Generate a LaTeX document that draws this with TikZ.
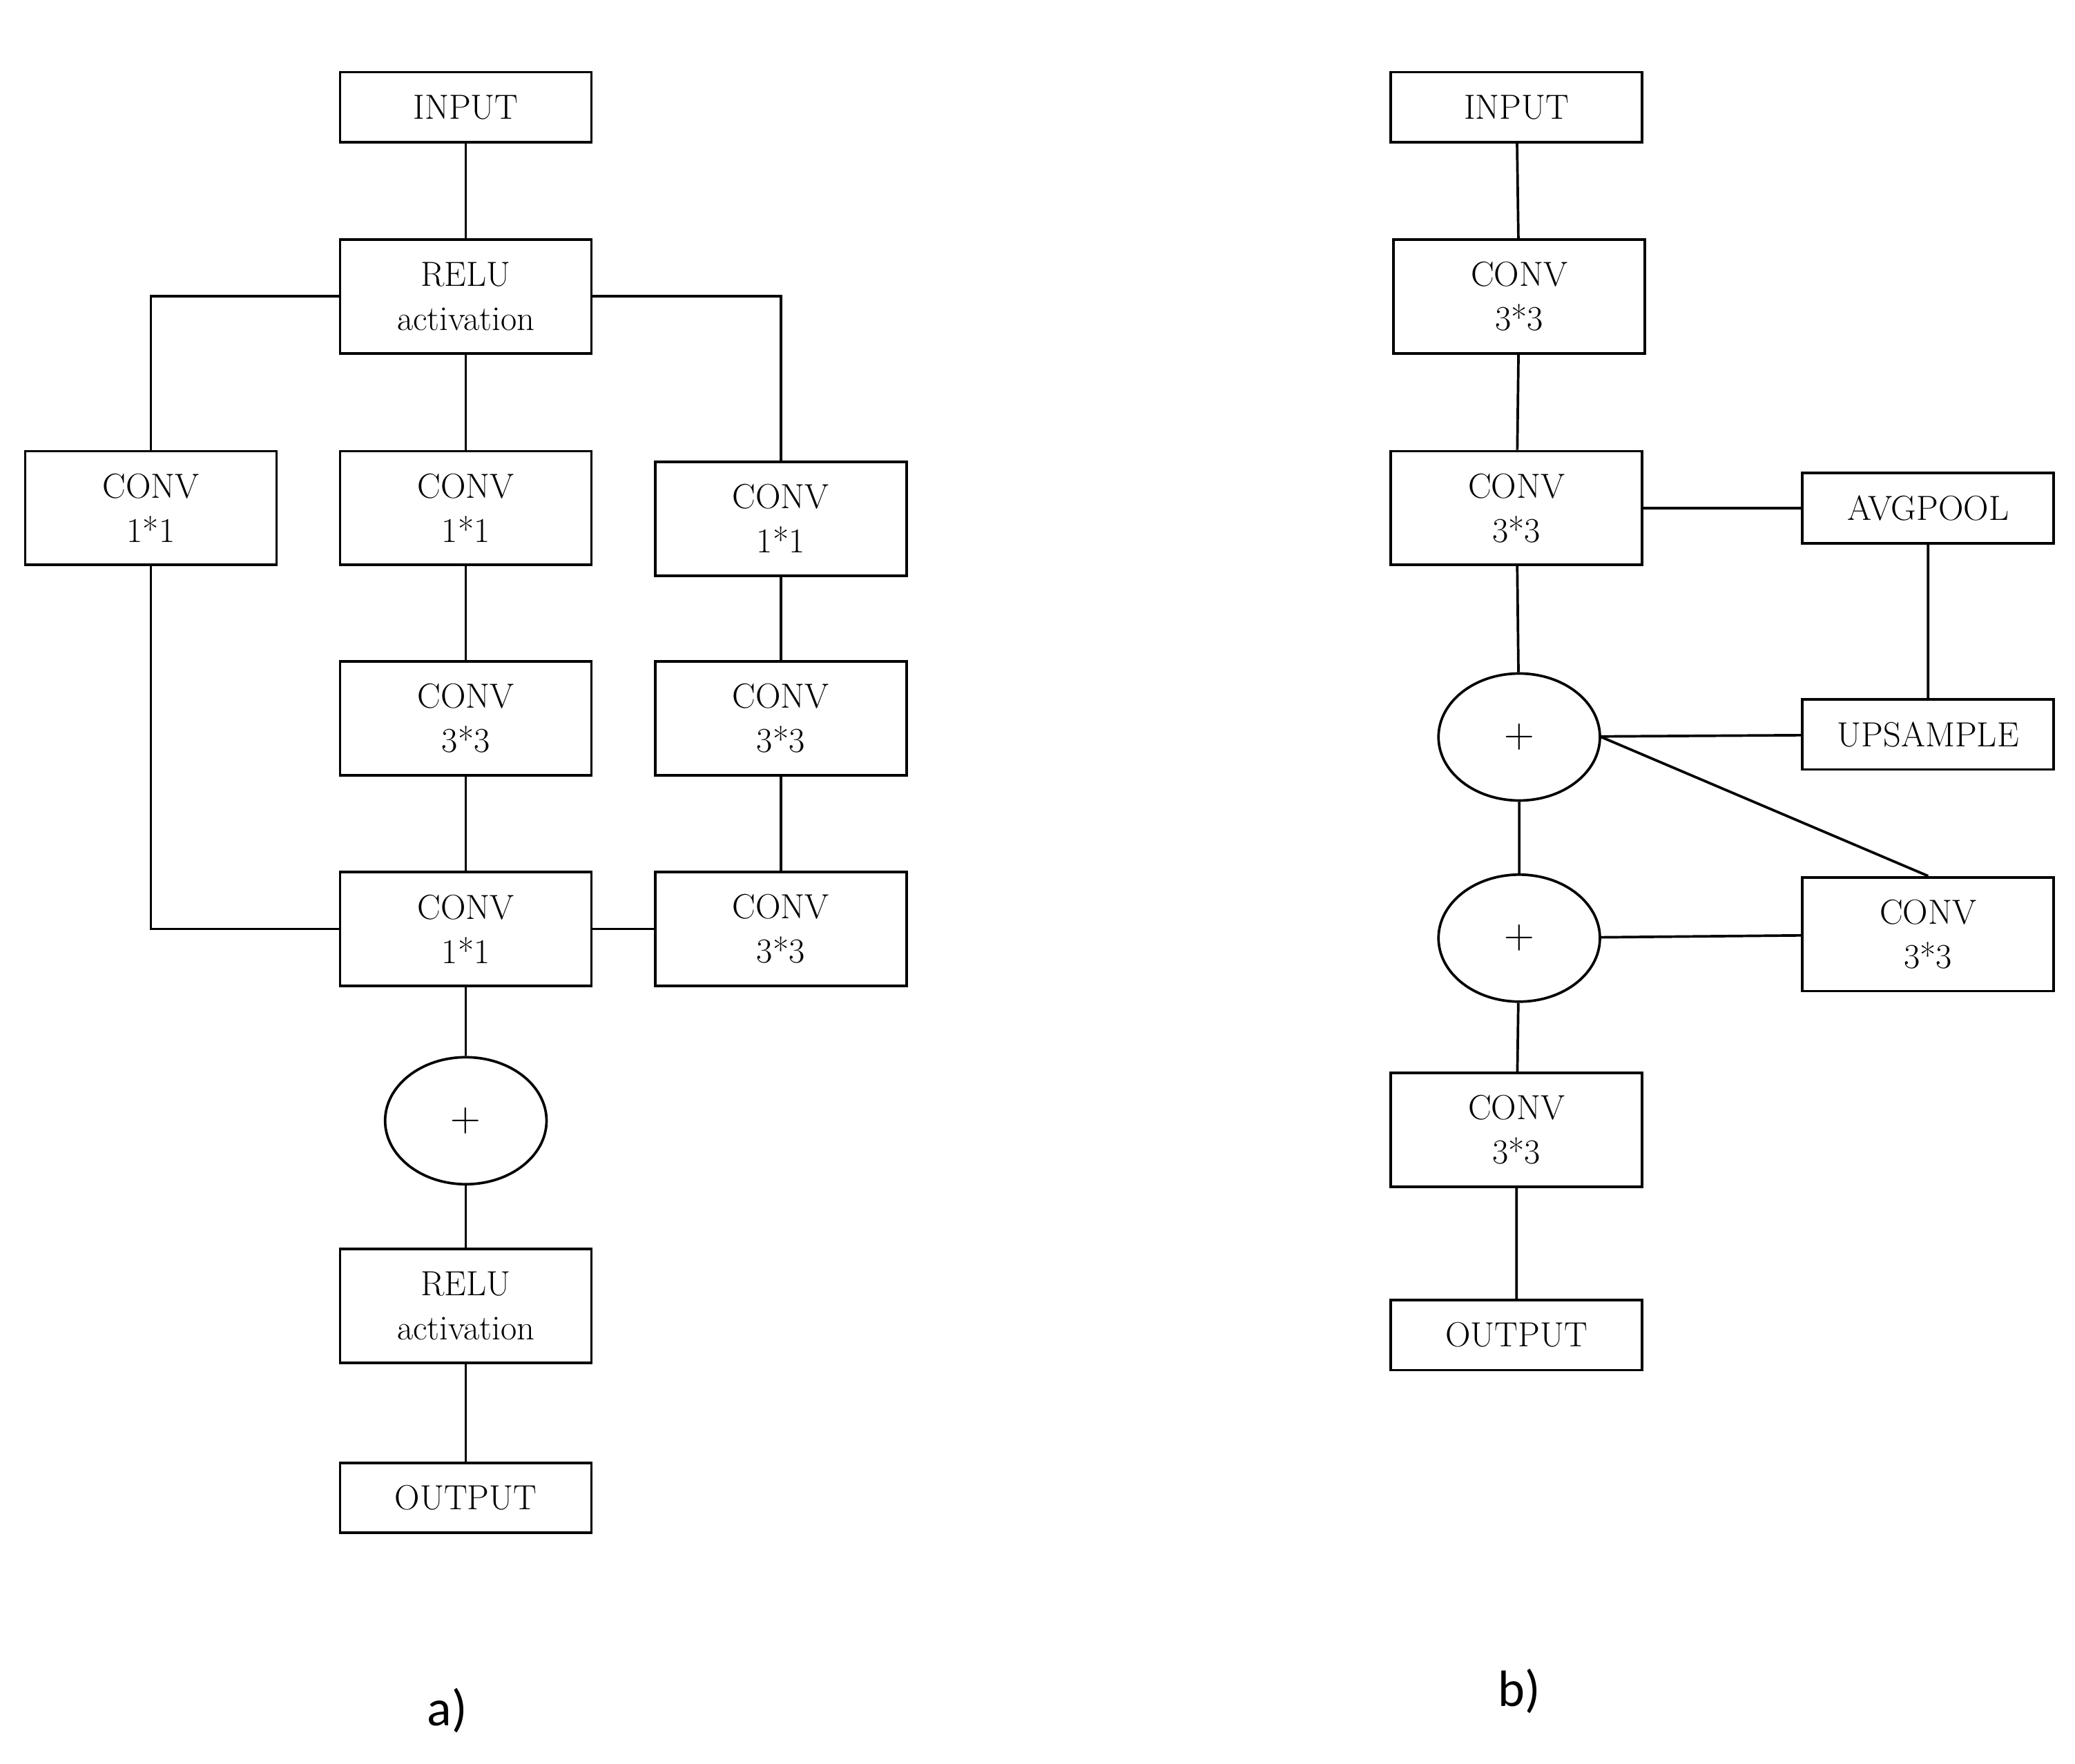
\documentclass[tikz,border=0pt]{standalone}
\usepackage{fontspec}
\usetikzlibrary{shapes.geometric}
\newfontfamily\lblfont{Carlito}
\begin{document}
\begin{tikzpicture}[x=0.02cm,y=-0.02cm,line width=1.1pt,
  blk/.style={draw,minimum width=3.8cm,minimum height=1.72cm,align=center,font=\fontsize{15}{19}\selectfont,inner sep=0pt},
  io/.style={blk,minimum height=1.06cm},
  sum/.style={draw,ellipse,minimum width=2.44cm,minimum height=1.92cm,font=\fontsize{18}{20}\selectfont,inner sep=0pt}]
\useasboundingbox (0,0) rectangle (1568,1333);
% a)
\node[io]  (ain)   at (352,81)   {INPUT};
\node[blk] (arelu) at (352,224)  {RELU\\activation};
\node[blk] (ac1)   at (114,384)  {CONV\\1*1};
\node[blk] (ac2)   at (352,384)  {CONV\\1*1};
\node[blk] (ac3)   at (590,392)  {CONV\\1*1};
\node[blk] (ac4)   at (352,543)  {CONV\\3*3};
\node[blk] (ac5)   at (590,543)  {CONV\\3*3};
\node[blk] (ac6)   at (352,702)  {CONV\\1*1};
\node[blk] (ac7)   at (590,702)  {CONV\\3*3};
\node[sum] (asum)  at (352,847)  {+};
\node[blk] (arelu2) at (352,987) {RELU\\activation};
\node[io]  (aout)  at (352,1132) {OUTPUT};
\node[font=\lblfont\fontsize{22}{24}\selectfont] (alab) at (338,1293) {a)};
\draw (ain) -- (arelu) -- (ac2) -- (ac4) -- (ac6) -- (asum) -- (arelu2) -- (aout);
\draw (arelu.west) -| (ac1.north);
\draw (arelu.east) -| (ac3.north);
\draw (ac3) -- (ac5) -- (ac7);
\draw (ac1.south) |- (ac6.west);
\draw (ac6) -- (ac7);
% b)
\node[io]  (bin)   at (1146,81)  {INPUT};
\node[blk] (bc1)   at (1148,224) {CONV\\3*3};
\node[blk] (bc2)   at (1146,384) {CONV\\3*3};
\node[io]  (bpool) at (1457,384) {AVGPOOL};
\node[sum] (bsum1) at (1148,557) {+};
\node[io]  (bup)   at (1457,555) {UPSAMPLE};
\node[sum] (bsum2) at (1148,709) {+};
\node[blk] (bc3)   at (1457,706) {CONV\\3*3};
\node[blk] (bc4)   at (1146,854) {CONV\\3*3};
\node[io]  (bout)  at (1146,1009) {OUTPUT};
\node[font=\lblfont\fontsize{22}{24}\selectfont] (blab) at (1148,1278) {b)};
\draw (bin) -- (bc1) -- (bc2) -- (bsum1) -- (bsum2) -- (bc4) -- (bout);
\draw (bc2) -- (bpool) -- (bup) -- (bsum1);
\draw (bsum1.east) -- (bc3.north);
\draw (bsum2) -- (bc3);
\end{tikzpicture}
\end{document}
